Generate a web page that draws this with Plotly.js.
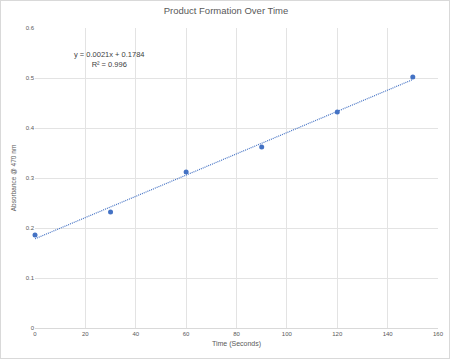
<!DOCTYPE html>
<html><head><meta charset="utf-8">
<script src="https://cdn.plot.ly/plotly-3.0.1.min.js"></script>
<style>html,body{margin:0;padding:0;background:#fff;}#c{width:450px;height:359px;box-sizing:border-box;border:1px solid #d9d9d9;}</style>
</head><body><div id="c"></div>
<script>
var timeSeconds = [0, 30, 60, 90, 120, 150];
var absorbance = [0.186, 0.232, 0.312, 0.362, 0.432, 0.502];
var xTicks = [0, 20, 40, 60, 80, 100, 120, 140, 160];
var yTicks = [0, 0.1, 0.2, 0.3, 0.4, 0.5, 0.6];

// least-squares trendline
var n = timeSeconds.length, sx=0, sy=0, sxx=0, sxy=0;
for (var i=0;i<n;i++){sx+=timeSeconds[i];sy+=absorbance[i];sxx+=timeSeconds[i]*timeSeconds[i];sxy+=timeSeconds[i]*absorbance[i];}
var slope=(n*sxy-sx*sy)/(n*sxx-sx*sx), intercept=(sy-slope*sx)/n;
var ym=sy/n, ssTot=0, ssRes=0;
for (var i=0;i<n;i++){var f=slope*timeSeconds[i]+intercept;ssRes+=Math.pow(absorbance[i]-f,2);ssTot+=Math.pow(absorbance[i]-ym,2);}
var r2=1-ssRes/ssTot;
var xFit=[timeSeconds[0], timeSeconds[n-1]];
var yFit=xFit.map(function(x){return slope*x+intercept;});

var grey='#595959';
var data=[
 {x:xFit,y:yFit,mode:'lines',line:{color:'#4472C4',width:1.2,dash:'1px,1px'},hoverinfo:'none'},
 {x:timeSeconds,y:absorbance,mode:'markers',marker:{color:'#4472C4',size:5},cliponaxis:false}
];
var layout={
 width:450,height:359,showlegend:false,
 margin:{l:34,r:13,t:27,b:32},
 paper_bgcolor:'rgba(0,0,0,0)',plot_bgcolor:'#fff',
 font:{family:'Liberation Sans, Arial, sans-serif',color:grey},
 title:{text:'Product Formation Over Time',font:{size:9.5,color:grey},x:0.5,xanchor:'center',y:0.972,yanchor:'middle'},
 xaxis:{range:[0,160],tickvals:xTicks,ticktext:xTicks.map(String),showgrid:true,gridcolor:'#e3e3e3',gridwidth:1,zeroline:false,showline:true,linecolor:'#d9d9d9',linewidth:1,ticks:'',tickfont:{size:6,color:grey},ticklen:0,
   title:{text:'Time (Seconds)',font:{size:7,color:grey},standoff:4}},
 yaxis:{range:[0,0.6],tickvals:yTicks,ticktext:yTicks.map(String),showgrid:true,gridcolor:'#e3e3e3',gridwidth:1,zeroline:false,showline:false,ticks:'',tickfont:{size:6,color:grey},
   title:{text:'Absorbance @ 470 nm',font:{size:6.5,color:grey},standoff:8}},
 annotations:[{x:29.4,y:0.537,xref:'x',yref:'y',showarrow:false,align:'center',
   text:'y = '+slope.toFixed(4)+'x + '+intercept.toFixed(4)+'<br>R² = '+r2.toFixed(3),font:{size:7.5,color:'#404040'}}]
};
Plotly.newPlot('c',data,layout,{displayModeBar:false,staticPlot:true});
</script></body></html>
